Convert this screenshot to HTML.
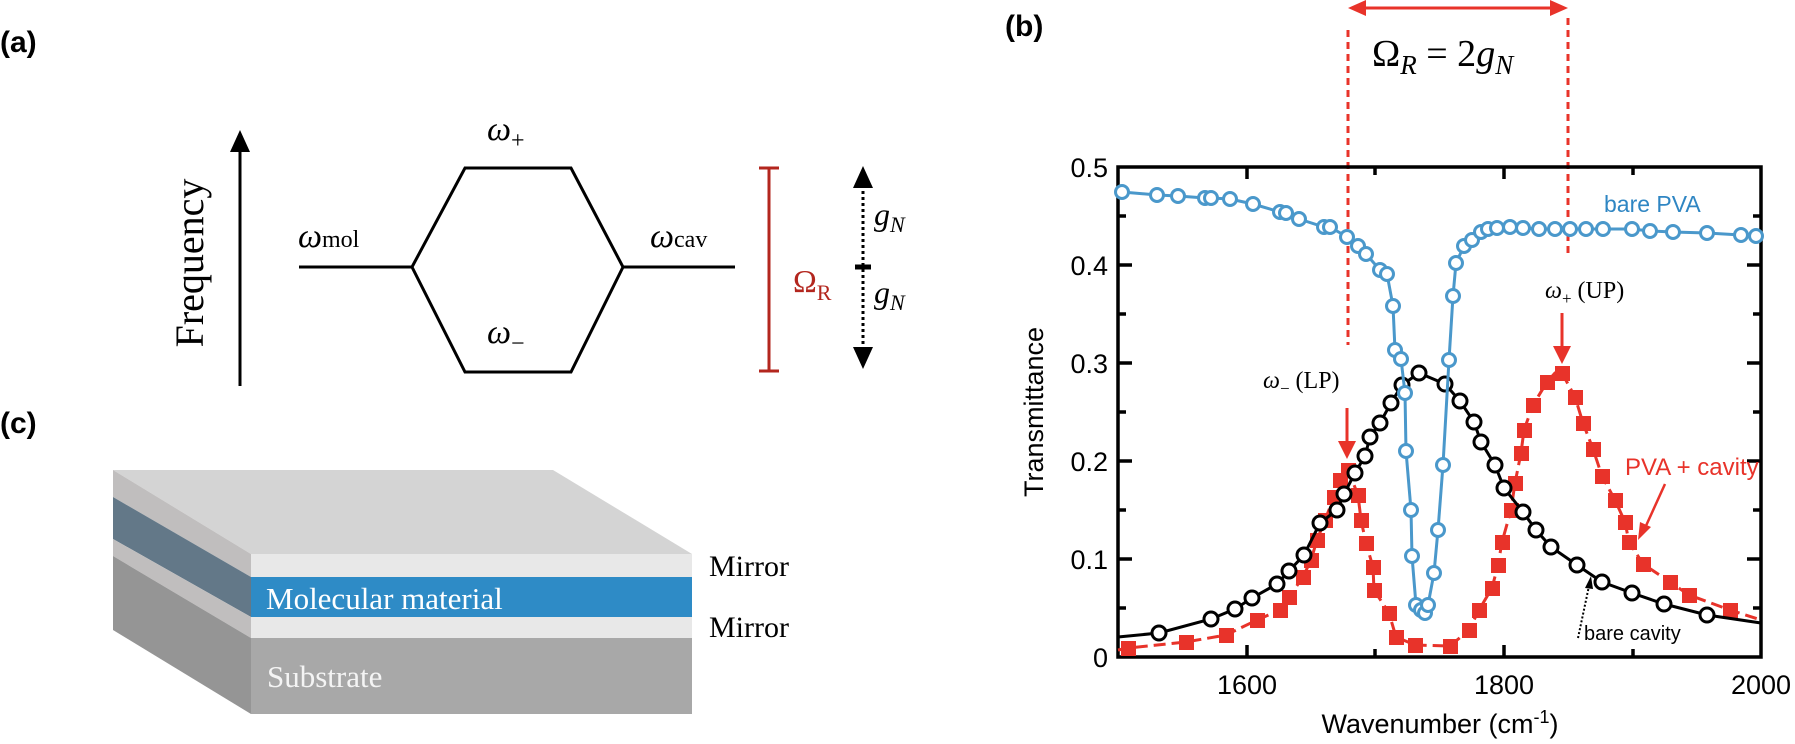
<!DOCTYPE html>
<html><head><meta charset="utf-8"><style>
html,body{margin:0;padding:0;background:#fff;}
svg{display:block;}
.sf{font-family:"Liberation Serif",serif;}
.ss{font-family:"Liberation Sans",sans-serif;}
</style></head><body>
<svg width="1795" height="744" viewBox="0 0 1795 744" xmlns="http://www.w3.org/2000/svg">
<defs>
<marker id="ah" markerWidth="10" markerHeight="10" refX="5" refY="5" orient="auto" markerUnits="userSpaceOnUse"><path d="M0,0 L10,5 L0,10 z" fill="#000"/></marker>
</defs>
<!-- panel labels -->
<text x="0" y="52" class="ss" font-size="30" font-weight="bold">(a)</text>
<text x="0" y="433" class="ss" font-size="30" font-weight="bold">(c)</text>
<text x="1005" y="36" class="ss" font-size="30" font-weight="bold">(b)</text>

<!-- panel a -->
<line x1="240" y1="386" x2="240" y2="150" stroke="#000" stroke-width="3"/>
<path d="M230,152 L240,130 L250,152 z" fill="#000"/>
<text class="sf" font-size="40" transform="translate(203,263) rotate(-90)" text-anchor="middle">Frequency</text>
<line x1="299" y1="267" x2="412" y2="267" stroke="#000" stroke-width="3"/>
<polygon points="412,267 465,168 571,168 623,267 571,372 465,372" fill="none" stroke="#000" stroke-width="3"/>
<line x1="623" y1="267" x2="735" y2="267" stroke="#000" stroke-width="3"/>
<text x="298" y="247" class="sf" font-size="34" font-style="italic">ω<tspan font-style="normal" font-size="24">mol</tspan></text>
<text x="487" y="140" class="sf" font-size="34" font-style="italic">ω<tspan font-style="normal" font-size="24" dy="8">+</tspan></text>
<text x="487" y="343" class="sf" font-size="34" font-style="italic">ω<tspan font-style="normal" font-size="24" dy="8">−</tspan></text>
<text x="650" y="247" class="sf" font-size="34" font-style="italic">ω<tspan font-style="normal" font-size="24">cav</tspan></text>
<g stroke="#b3261e" stroke-width="3">
<line x1="769" y1="168" x2="769" y2="371"/><line x1="759" y1="168" x2="779" y2="168"/><line x1="759" y1="371" x2="779" y2="371"/>
</g>
<text x="793" y="292" class="sf" font-size="32" fill="#b3261e">Ω<tspan font-size="22" dy="8">R</tspan></text>
<line x1="863" y1="185" x2="863" y2="350" stroke="#000" stroke-width="3" stroke-dasharray="3,3"/>
<path d="M853,188 L863,166 L873,188 z" fill="#000"/>
<path d="M853,347 L863,369 L873,347 z" fill="#000"/>
<line x1="855" y1="267" x2="871" y2="267" stroke="#000" stroke-width="5"/>
<text x="874" y="225" class="sf" font-size="32" font-style="italic">g<tspan font-size="22" dy="7">N</tspan></text>
<text x="874" y="303" class="sf" font-size="32" font-style="italic">g<tspan font-size="22" dy="7">N</tspan></text>

<!-- panel c -->
<polygon points="113,470 553,470 692,554 251,554" fill="#d4d4d4"/>
<polygon points="113,470 251,554 251,577 113,497" fill="#c0bebe"/>
<polygon points="113,497 251,577 251,617 113,539" fill="#637888"/>
<polygon points="113,539 251,617 251,638 113,556" fill="#c0bebe"/>
<polygon points="113,556 251,638 251,714 113,630" fill="#959595"/>
<rect x="251" y="554" width="441" height="23" fill="#e8e8e8"/>
<rect x="251" y="577" width="441" height="40" fill="#2e8bc6"/>
<rect x="251" y="617" width="441" height="21" fill="#e8e8e8"/>
<rect x="251" y="638" width="441" height="76" fill="#a8a8a8"/>
<text x="266" y="609" class="sf" font-size="31" fill="#fff">Molecular  material</text>
<text x="267" y="687" class="sf" font-size="31" fill="#f4f4f4">Substrate</text>
<text x="709" y="576" class="sf" font-size="30">Mirror</text>
<text x="709" y="637" class="sf" font-size="30">Mirror</text>

<!-- panel b -->
<!-- top annotations -->
<line x1="1348" y1="30" x2="1348" y2="345" stroke="#e8332a" stroke-width="3" stroke-dasharray="7,5"/>
<line x1="1568" y1="18" x2="1568" y2="258" stroke="#e8332a" stroke-width="3" stroke-dasharray="7,5"/>
<line x1="1362" y1="8" x2="1554" y2="8" stroke="#e8332a" stroke-width="3"/>
<path d="M1348,8 L1366,0 L1366,16 z" fill="#e8332a"/>
<path d="M1568,8 L1550,0 L1550,16 z" fill="#e8332a"/>
<text x="1372" y="66" class="sf" font-size="38">Ω<tspan font-style="italic" font-size="27" dy="8">R</tspan><tspan dy="-8"> = 2</tspan><tspan font-style="italic">g</tspan><tspan font-style="italic" font-size="27" dy="8">N</tspan></text>

<!-- axes -->
<rect x="1118" y="167" width="643" height="490" fill="none" stroke="#000" stroke-width="3.5"/>
<g stroke="#000" stroke-width="3.5">
<!-- x ticks bottom/top -->
<line x1="1247" y1="657" x2="1247" y2="645"/><line x1="1247" y1="167" x2="1247" y2="179"/>
<line x1="1375" y1="657" x2="1375" y2="649"/><line x1="1375" y1="167" x2="1375" y2="175"/>
<line x1="1504" y1="657" x2="1504" y2="645"/><line x1="1504" y1="167" x2="1504" y2="179"/>
<line x1="1633" y1="657" x2="1633" y2="649"/><line x1="1633" y1="167" x2="1633" y2="175"/>
<!-- y ticks -->
<line x1="1118" y1="559" x2="1132" y2="559"/><line x1="1761" y1="559" x2="1747" y2="559"/>
<line x1="1118" y1="461" x2="1132" y2="461"/><line x1="1761" y1="461" x2="1747" y2="461"/>
<line x1="1118" y1="363" x2="1132" y2="363"/><line x1="1761" y1="363" x2="1747" y2="363"/>
<line x1="1118" y1="265" x2="1132" y2="265"/><line x1="1761" y1="265" x2="1747" y2="265"/>
<line x1="1118" y1="608" x2="1126" y2="608"/><line x1="1761" y1="608" x2="1753" y2="608"/>
<line x1="1118" y1="510" x2="1126" y2="510"/><line x1="1761" y1="510" x2="1753" y2="510"/>
<line x1="1118" y1="412" x2="1126" y2="412"/><line x1="1761" y1="412" x2="1753" y2="412"/>
<line x1="1118" y1="314" x2="1126" y2="314"/><line x1="1761" y1="314" x2="1753" y2="314"/>
<line x1="1118" y1="216" x2="1126" y2="216"/><line x1="1761" y1="216" x2="1753" y2="216"/>
</g>
<g class="ss" font-size="27" text-anchor="end">
<text x="1108" y="667">0</text><text x="1108" y="569">0.1</text><text x="1108" y="471">0.2</text>
<text x="1108" y="373">0.3</text><text x="1108" y="275">0.4</text><text x="1108" y="177">0.5</text>
</g>
<g class="ss" font-size="27" text-anchor="middle">
<text x="1247" y="694">1600</text><text x="1504" y="694">1800</text><text x="1761" y="694">2000</text>
<text x="1440" y="733">Wavenumber (cm<tspan font-size="18" dy="-10">-1</tspan><tspan dy="10">)</tspan></text>
<text transform="translate(1043,412) rotate(-90)">Transmittance</text>
</g>

<!-- red series -->
<polyline fill="none" stroke="#e8332a" stroke-width="3" stroke-dasharray="12,6" points="1118,650 1128,648 1186,642 1226,635 1257,620 1280,610 1289,597 1303,577 1311,560 1317,540 1325,520 1334,497 1340,480 1348,470 1358,495 1361,520 1366,543 1373,567 1374,590 1389,613 1396,637 1415,645 1450,646 1469,630 1479,610 1492,588 1498,565 1502,542 1511,510 1515,483 1521,453 1524,430 1533,405 1547,382 1555,373 1562,373 1575,397 1583,423 1593,449 1602,476 1615,500 1625,522 1629,542 1643,564 1670,582 1689,595 1730,610 1761,620"/>
<g fill="#e8332a">
<rect x="1121" y="641" width="15" height="15"/><rect x="1179" y="635" width="15" height="15"/><rect x="1219" y="628" width="15" height="15"/><rect x="1250" y="613" width="15" height="15"/><rect x="1273" y="603" width="15" height="15"/><rect x="1282" y="590" width="15" height="15"/><rect x="1296" y="570" width="15" height="15"/><rect x="1304" y="553" width="15" height="15"/><rect x="1310" y="533" width="15" height="15"/><rect x="1318" y="513" width="15" height="15"/><rect x="1327" y="490" width="15" height="15"/><rect x="1333" y="473" width="15" height="15"/><rect x="1341" y="463" width="15" height="15"/><rect x="1351" y="488" width="15" height="15"/><rect x="1354" y="513" width="15" height="15"/><rect x="1359" y="536" width="15" height="15"/><rect x="1366" y="560" width="15" height="15"/><rect x="1367" y="583" width="15" height="15"/><rect x="1382" y="606" width="15" height="15"/><rect x="1389" y="630" width="15" height="15"/><rect x="1408" y="638" width="15" height="15"/><rect x="1443" y="639" width="15" height="15"/><rect x="1462" y="623" width="15" height="15"/><rect x="1472" y="603" width="15" height="15"/><rect x="1485" y="581" width="15" height="15"/><rect x="1491" y="558" width="15" height="15"/><rect x="1495" y="535" width="15" height="15"/><rect x="1504" y="503" width="15" height="15"/><rect x="1508" y="476" width="15" height="15"/><rect x="1514" y="446" width="15" height="15"/><rect x="1517" y="423" width="15" height="15"/><rect x="1526" y="398" width="15" height="15"/><rect x="1540" y="375" width="15" height="15"/><rect x="1555" y="366" width="15" height="15"/><rect x="1568" y="390" width="15" height="15"/><rect x="1576" y="416" width="15" height="15"/><rect x="1586" y="442" width="15" height="15"/><rect x="1595" y="469" width="15" height="15"/><rect x="1608" y="493" width="15" height="15"/><rect x="1618" y="515" width="15" height="15"/><rect x="1622" y="535" width="15" height="15"/><rect x="1636" y="557" width="15" height="15"/><rect x="1663" y="575" width="15" height="15"/><rect x="1682" y="588" width="15" height="15"/><rect x="1723" y="603" width="15" height="15"/>
</g>

<!-- black series -->
<polyline fill="none" stroke="#000" stroke-width="3" points="1118,637 1159,633 1211,619 1235,609 1252,598 1277,584 1289,571 1304,555 1320,523 1337,510 1344,494 1355,473 1365,456 1370,437 1380,423 1391,403 1402,385 1419,373 1445,384 1460,401 1474,422 1481,442 1495,465 1504,488 1523,512 1536,530 1551,547 1577,565 1602,582 1632,593 1664,604 1707,615 1761,623"/>
<g fill="#fff" stroke="#000" stroke-width="3">
<circle cx="1159" cy="633" r="7"/><circle cx="1211" cy="619" r="7"/><circle cx="1235" cy="609" r="7"/><circle cx="1252" cy="598" r="7"/><circle cx="1277" cy="584" r="7"/><circle cx="1289" cy="571" r="7"/><circle cx="1304" cy="555" r="7"/><circle cx="1320" cy="523" r="7"/><circle cx="1337" cy="510" r="7"/><circle cx="1344" cy="494" r="7"/><circle cx="1355" cy="473" r="7"/><circle cx="1365" cy="456" r="7"/><circle cx="1370" cy="437" r="7"/><circle cx="1380" cy="423" r="7"/><circle cx="1391" cy="403" r="7"/><circle cx="1402" cy="385" r="7"/><circle cx="1419" cy="373" r="7"/><circle cx="1445" cy="384" r="7"/><circle cx="1460" cy="401" r="7"/><circle cx="1474" cy="422" r="7"/><circle cx="1481" cy="442" r="7"/><circle cx="1495" cy="465" r="7"/><circle cx="1504" cy="488" r="7"/><circle cx="1523" cy="512" r="7"/><circle cx="1536" cy="530" r="7"/><circle cx="1551" cy="547" r="7"/><circle cx="1577" cy="565" r="7"/><circle cx="1602" cy="582" r="7"/><circle cx="1632" cy="593" r="7"/><circle cx="1664" cy="604" r="7"/><circle cx="1707" cy="615" r="7"/>
</g>

<!-- blue series -->
<polyline fill="none" stroke="#4a98cb" stroke-width="3" points="1122,192 1157,195 1178,196 1205,198 1211,198 1230,199 1253,204 1280,212 1286,213 1299,219 1324,227 1330,227 1347,237 1358,246 1366,254 1380,270 1387,274 1393,306 1395,350 1401,359 1405,393 1406,451 1411,510 1412,556 1416,605 1421,610 1425,613 1428,605 1434,573 1438,530 1443,465 1449,360 1453,296 1456,263 1464,246 1472,240 1481,232 1488,229 1497,228 1510,227 1523,228 1539,229 1555,229 1570,229 1586,229 1603,229 1632,229 1650,231 1673,232 1707,233 1741,235 1756,236"/>
<g fill="#fff" stroke="#4a98cb" stroke-width="3">
<circle cx="1122" cy="192" r="6.5"/><circle cx="1157" cy="195" r="6.5"/><circle cx="1178" cy="196" r="6.5"/><circle cx="1205" cy="198" r="6.5"/><circle cx="1211" cy="198" r="6.5"/><circle cx="1230" cy="199" r="6.5"/><circle cx="1253" cy="204" r="6.5"/><circle cx="1280" cy="212" r="6.5"/><circle cx="1286" cy="213" r="6.5"/><circle cx="1299" cy="219" r="6.5"/><circle cx="1324" cy="227" r="6.5"/><circle cx="1330" cy="227" r="6.5"/><circle cx="1347" cy="237" r="6.5"/><circle cx="1358" cy="246" r="6.5"/><circle cx="1366" cy="254" r="6.5"/><circle cx="1380" cy="270" r="6.5"/><circle cx="1387" cy="274" r="6.5"/><circle cx="1393" cy="306" r="6.5"/><circle cx="1395" cy="350" r="6.5"/><circle cx="1401" cy="359" r="6.5"/><circle cx="1405" cy="393" r="6.5"/><circle cx="1406" cy="451" r="6.5"/><circle cx="1411" cy="510" r="6.5"/><circle cx="1412" cy="556" r="6.5"/><circle cx="1416" cy="605" r="6.5"/><circle cx="1421" cy="610" r="6.5"/><circle cx="1425" cy="613" r="6.5"/><circle cx="1428" cy="605" r="6.5"/><circle cx="1434" cy="573" r="6.5"/><circle cx="1438" cy="530" r="6.5"/><circle cx="1443" cy="465" r="6.5"/><circle cx="1449" cy="360" r="6.5"/><circle cx="1453" cy="296" r="6.5"/><circle cx="1456" cy="263" r="6.5"/><circle cx="1464" cy="246" r="6.5"/><circle cx="1472" cy="240" r="6.5"/><circle cx="1481" cy="232" r="6.5"/><circle cx="1488" cy="229" r="6.5"/><circle cx="1497" cy="228" r="6.5"/><circle cx="1510" cy="227" r="6.5"/><circle cx="1523" cy="228" r="6.5"/><circle cx="1539" cy="229" r="6.5"/><circle cx="1555" cy="229" r="6.5"/><circle cx="1570" cy="229" r="6.5"/><circle cx="1586" cy="229" r="6.5"/><circle cx="1603" cy="229" r="6.5"/><circle cx="1632" cy="229" r="6.5"/><circle cx="1650" cy="231" r="6.5"/><circle cx="1673" cy="232" r="6.5"/><circle cx="1707" cy="233" r="6.5"/><circle cx="1741" cy="235" r="6.5"/><circle cx="1756" cy="236" r="6.5"/>
</g>

<!-- annotations inside -->
<text x="1604" y="212" class="ss" font-size="23" fill="#2f86c3">bare PVA</text>
<text x="1545" y="298" class="sf" font-size="24"><tspan font-style="italic">ω</tspan><tspan font-size="17" dy="6">+</tspan><tspan dy="-6"> (UP)</tspan></text>
<line x1="1562" y1="313" x2="1562" y2="350" stroke="#e8332a" stroke-width="3"/>
<path d="M1553,346 L1562,364 L1571,346 z" fill="#e8332a"/>
<text x="1263" y="388" class="sf" font-size="24"><tspan font-style="italic">ω</tspan><tspan font-size="17" dy="6">−</tspan><tspan dy="-6"> (LP)</tspan></text>
<line x1="1347" y1="408" x2="1347" y2="445" stroke="#e8332a" stroke-width="3"/>
<path d="M1338,441 L1347,459 L1356,441 z" fill="#e8332a"/>
<text x="1625" y="475" class="ss" font-size="24" fill="#e8332a">PVA + cavity</text>
<line x1="1665" y1="484" x2="1645" y2="528" stroke="#e8332a" stroke-width="2.5"/>
<path d="M1638,540 L1640,522 L1651,527 z" fill="#e8332a"/>
<text x="1584" y="640" class="ss" font-size="20">bare cavity</text>
<line x1="1578" y1="638" x2="1589" y2="586" stroke="#000" stroke-width="2" stroke-dasharray="2,2"/>
<path d="M1591,576 L1585,588 L1593,589 z" fill="#000"/>
</svg>
</body></html>
